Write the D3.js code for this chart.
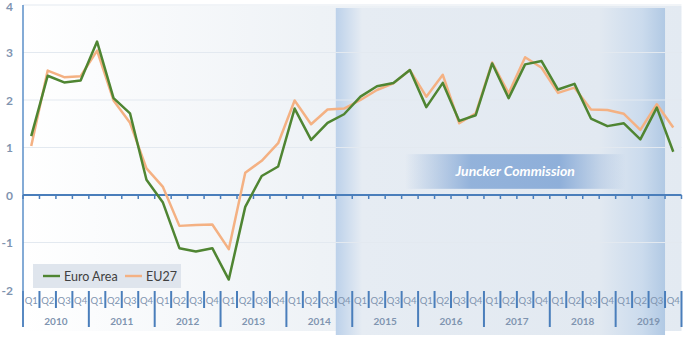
<!DOCTYPE html>
<html>
<head>
<meta charset="utf-8">
<script src="https://cdn.jsdelivr.net/npm/d3@7"></script>
<style>
  html, body { margin: 0; padding: 0; background: #ffffff; }
  svg { display: block; font-family: Lato, "Open Sans", sans-serif; }
</style>
</head>
<body>
<svg id="chart" width="685" height="338"></svg>
<script>
// ---------------- data ----------------
const years = ["2010","2011","2012","2013","2014","2015","2016","2017","2018","2019"];
const quarters = ["Q1","Q2","Q3","Q4"];
const euroArea = [1.24,2.51,2.37,2.41, 3.23,2.04,1.72,0.32, -0.16,-1.12,-1.19,-1.12,
                  -1.78,-0.25,0.40,0.60, 1.82,1.16,1.52,1.70, 2.07,2.29,2.36,2.63,
                  1.85,2.36,1.56,1.68, 2.77,2.04,2.75,2.82, 2.22,2.34,1.61,1.45,
                  1.51,1.17,1.84,0.91];
const eu27 = [1.03,2.62,2.48,2.50, 3.04,1.99,1.52,0.56, 0.17,-0.65,-0.63,-0.62,
              -1.14,0.47,0.72,1.09, 1.99,1.49,1.80,1.82, 2.00,2.21,2.35,2.63,
              2.07,2.53,1.51,1.72, 2.79,2.14,2.90,2.68, 2.15,2.26,1.80,1.79,
              1.71,1.37,1.91,1.42];
const yTicks = [-2,-1,0,1,2,3,4];
const seriesNames = ["Euro Area","EU27"];
const termStart = "2014-Q4", termEnd = "2019-Q3";
const termLabel = "Juncker Commission";

// ---------------- setup ----------------
const svg = d3.select("#chart");
const pLeft = 23, pRight = 681.5, pTop = 5, pBottom = 290;
const cats = [];
years.forEach(yr => quarters.forEach(q => cats.push(yr + "-" + q)));

const x = d3.scaleBand().domain(cats).range([pLeft, pRight]).paddingInner(0).paddingOuter(0);
const y = d3.scaleLinear().domain([-2, 4]).range([pBottom, pTop]);
const bw = x.bandwidth();
const xi = d3.scaleLinear().domain([0, cats.length]).range([pLeft, pRight]); // fractional category index

const axisBlue = "#4a7ebb";
const labelCol = "#7f94b0";
const green = "#4f8532", orange = "#f4b183";

const defs = svg.append("defs");

// chart background gradient
const bg = defs.append("linearGradient").attr("id","bg").attr("x1","0").attr("x2","1").attr("y1","0").attr("y2","0");
bg.append("stop").attr("offset","0").attr("stop-color","#ffffff");
bg.append("stop").attr("offset","0.45").attr("stop-color","#eef2f6");
bg.append("stop").attr("offset","1").attr("stop-color","#e3eaf2");
svg.append("rect").attr("x", pLeft).attr("y", pTop + 1).attr("width", pRight - pLeft).attr("height", 330 - pTop)
  .attr("fill","url(#bg)");

// term band gradient
const tb = defs.append("linearGradient").attr("id","term").attr("x1","0").attr("x2","1").attr("y1","0").attr("y2","0");
tb.append("stop").attr("offset","0").attr("stop-color","#bcd1ea");
tb.append("stop").attr("offset","0.08").attr("stop-color","#e6ecf3");
tb.append("stop").attr("offset","0.8").attr("stop-color","#e2e9f1");
tb.append("stop").attr("offset","0.93").attr("stop-color","#cbdbed");
tb.append("stop").attr("offset","1").attr("stop-color","#b1c9e4");
const tx0 = x(termStart), tx1 = x(termEnd) + bw;
svg.append("rect").attr("x", tx0).attr("y", pTop + 3).attr("width", tx1 - tx0).attr("height", 335 - pTop - 3)
  .attr("fill","url(#term)");

// gridlines
svg.append("g").selectAll("line").data(yTicks.filter(d => d !== 0 && d !== -2)).join("line")
  .attr("x1", pLeft).attr("x2", pRight).attr("y1", d => y(d)).attr("y2", d => y(d))
  .attr("stroke","#e3e9f0").attr("stroke-width",1);

// y axis labels
svg.append("g").selectAll("text").data(yTicks).join("text")
  .attr("x", 13).attr("y", d => Math.max(y(d) + 4.5, 11)).attr("text-anchor","end")
  .attr("font-size", 12).attr("font-weight","bold").attr("fill", labelCol)
  .text(d => d);

// left axis line
svg.append("line").attr("x1", pLeft).attr("x2", pLeft).attr("y1", pTop).attr("y2", 327)
  .attr("stroke", "#5b8fc9").attr("stroke-width", 1.5);

// zero line with ticks
const zeroG = svg.append("g");
zeroG.append("line").attr("x1", pLeft).attr("x2", pRight).attr("y1", y(0)).attr("y2", y(0))
  .attr("stroke", axisBlue).attr("stroke-width", 2);
zeroG.selectAll("line.tk").data(d3.range(cats.length + 1)).join("line").attr("class","tk")
  .attr("x1", d => xi(d)).attr("x2", d => xi(d)).attr("y1", y(0)).attr("y2", y(0) + 4)
  .attr("stroke", axisBlue).attr("stroke-width", 1.5);

// juncker label box
const lb = defs.append("linearGradient").attr("id","lab").attr("x1","0").attr("x2","1").attr("y1","0").attr("y2","0");
lb.append("stop").attr("offset","0").attr("stop-color","#8aacd8").attr("stop-opacity",0);
lb.append("stop").attr("offset","0.3").attr("stop-color","#8aacd8").attr("stop-opacity",0.9);
lb.append("stop").attr("offset","0.7").attr("stop-color","#8aacd8").attr("stop-opacity",0.95);
lb.append("stop").attr("offset","1").attr("stop-color","#8aacd8").attr("stop-opacity",0);
const lx0 = xi(23.2), lx1 = xi(36.6);
svg.append("rect").attr("x", lx0).attr("y", y(0.86)).attr("width", lx1 - lx0).attr("height", y(0.13) - y(0.86))
  .attr("fill","url(#lab)");
svg.append("text").attr("x", (lx0 + lx1) / 2).attr("y", y(0.39))
  .attr("text-anchor","middle").attr("font-size", 14).attr("font-weight","bold").attr("font-style","italic")
  .attr("fill","#ffffff").text(termLabel);

// category axis at bottom
const catG = svg.append("g");
catG.selectAll("text.q").data(cats).join("text").attr("class","q")
  .attr("x", d => x(d) + bw / 2).attr("y", 303.5).attr("text-anchor","middle")
  .attr("font-size", 9.5).attr("fill", labelCol).text(d => d.split("-")[1]);
catG.selectAll("line.sep").data(d3.range(cats.length + 1)).join("line").attr("class","sep")
  .attr("x1", d => xi(d)).attr("x2", d => xi(d))
  .attr("y1", 291).attr("y2", d => d % 4 === 0 ? 327 : 308)
  .attr("stroke", axisBlue).attr("stroke-width", d => d === 0 ? 1.5 : 2);
catG.selectAll("text.yr").data(years).join("text").attr("class","yr")
  .attr("x", d => x(d + "-Q1") + bw * 2).attr("y", 324.5).attr("text-anchor","middle")
  .attr("font-size", 10).attr("font-weight","bold").attr("fill", labelCol).text(d => d);

// lines
const line = d3.line().x((d, i) => x(cats[i]) + bw / 2).y(d => y(d));
svg.append("path").datum(eu27).attr("d", line).attr("fill","none")
  .attr("stroke", orange).attr("stroke-width", 2.5).attr("stroke-linejoin","round");
svg.append("path").datum(euroArea).attr("d", line).attr("fill","none")
  .attr("stroke", green).attr("stroke-width", 2.5).attr("stroke-linejoin","round");

// legend
const lg = svg.append("g");
lg.append("rect").attr("x", 33).attr("y", 264).attr("width", 148).attr("height", 24).attr("fill", "#dfe5ed");
const legendItems = [{name: seriesNames[0], color: green, x: 43}, {name: seriesNames[1], color: orange, x: 125}];
legendItems.forEach(it => {
  lg.append("line").attr("x1", it.x).attr("x2", it.x + 17).attr("y1", 276).attr("y2", 276)
    .attr("stroke", it.color).attr("stroke-width", 2.4);
  lg.append("text").attr("x", it.x + 21).attr("y", 280.5).attr("font-size", 12.5).attr("fill","#404040").text(it.name);
});
</script>
</body>
</html>
